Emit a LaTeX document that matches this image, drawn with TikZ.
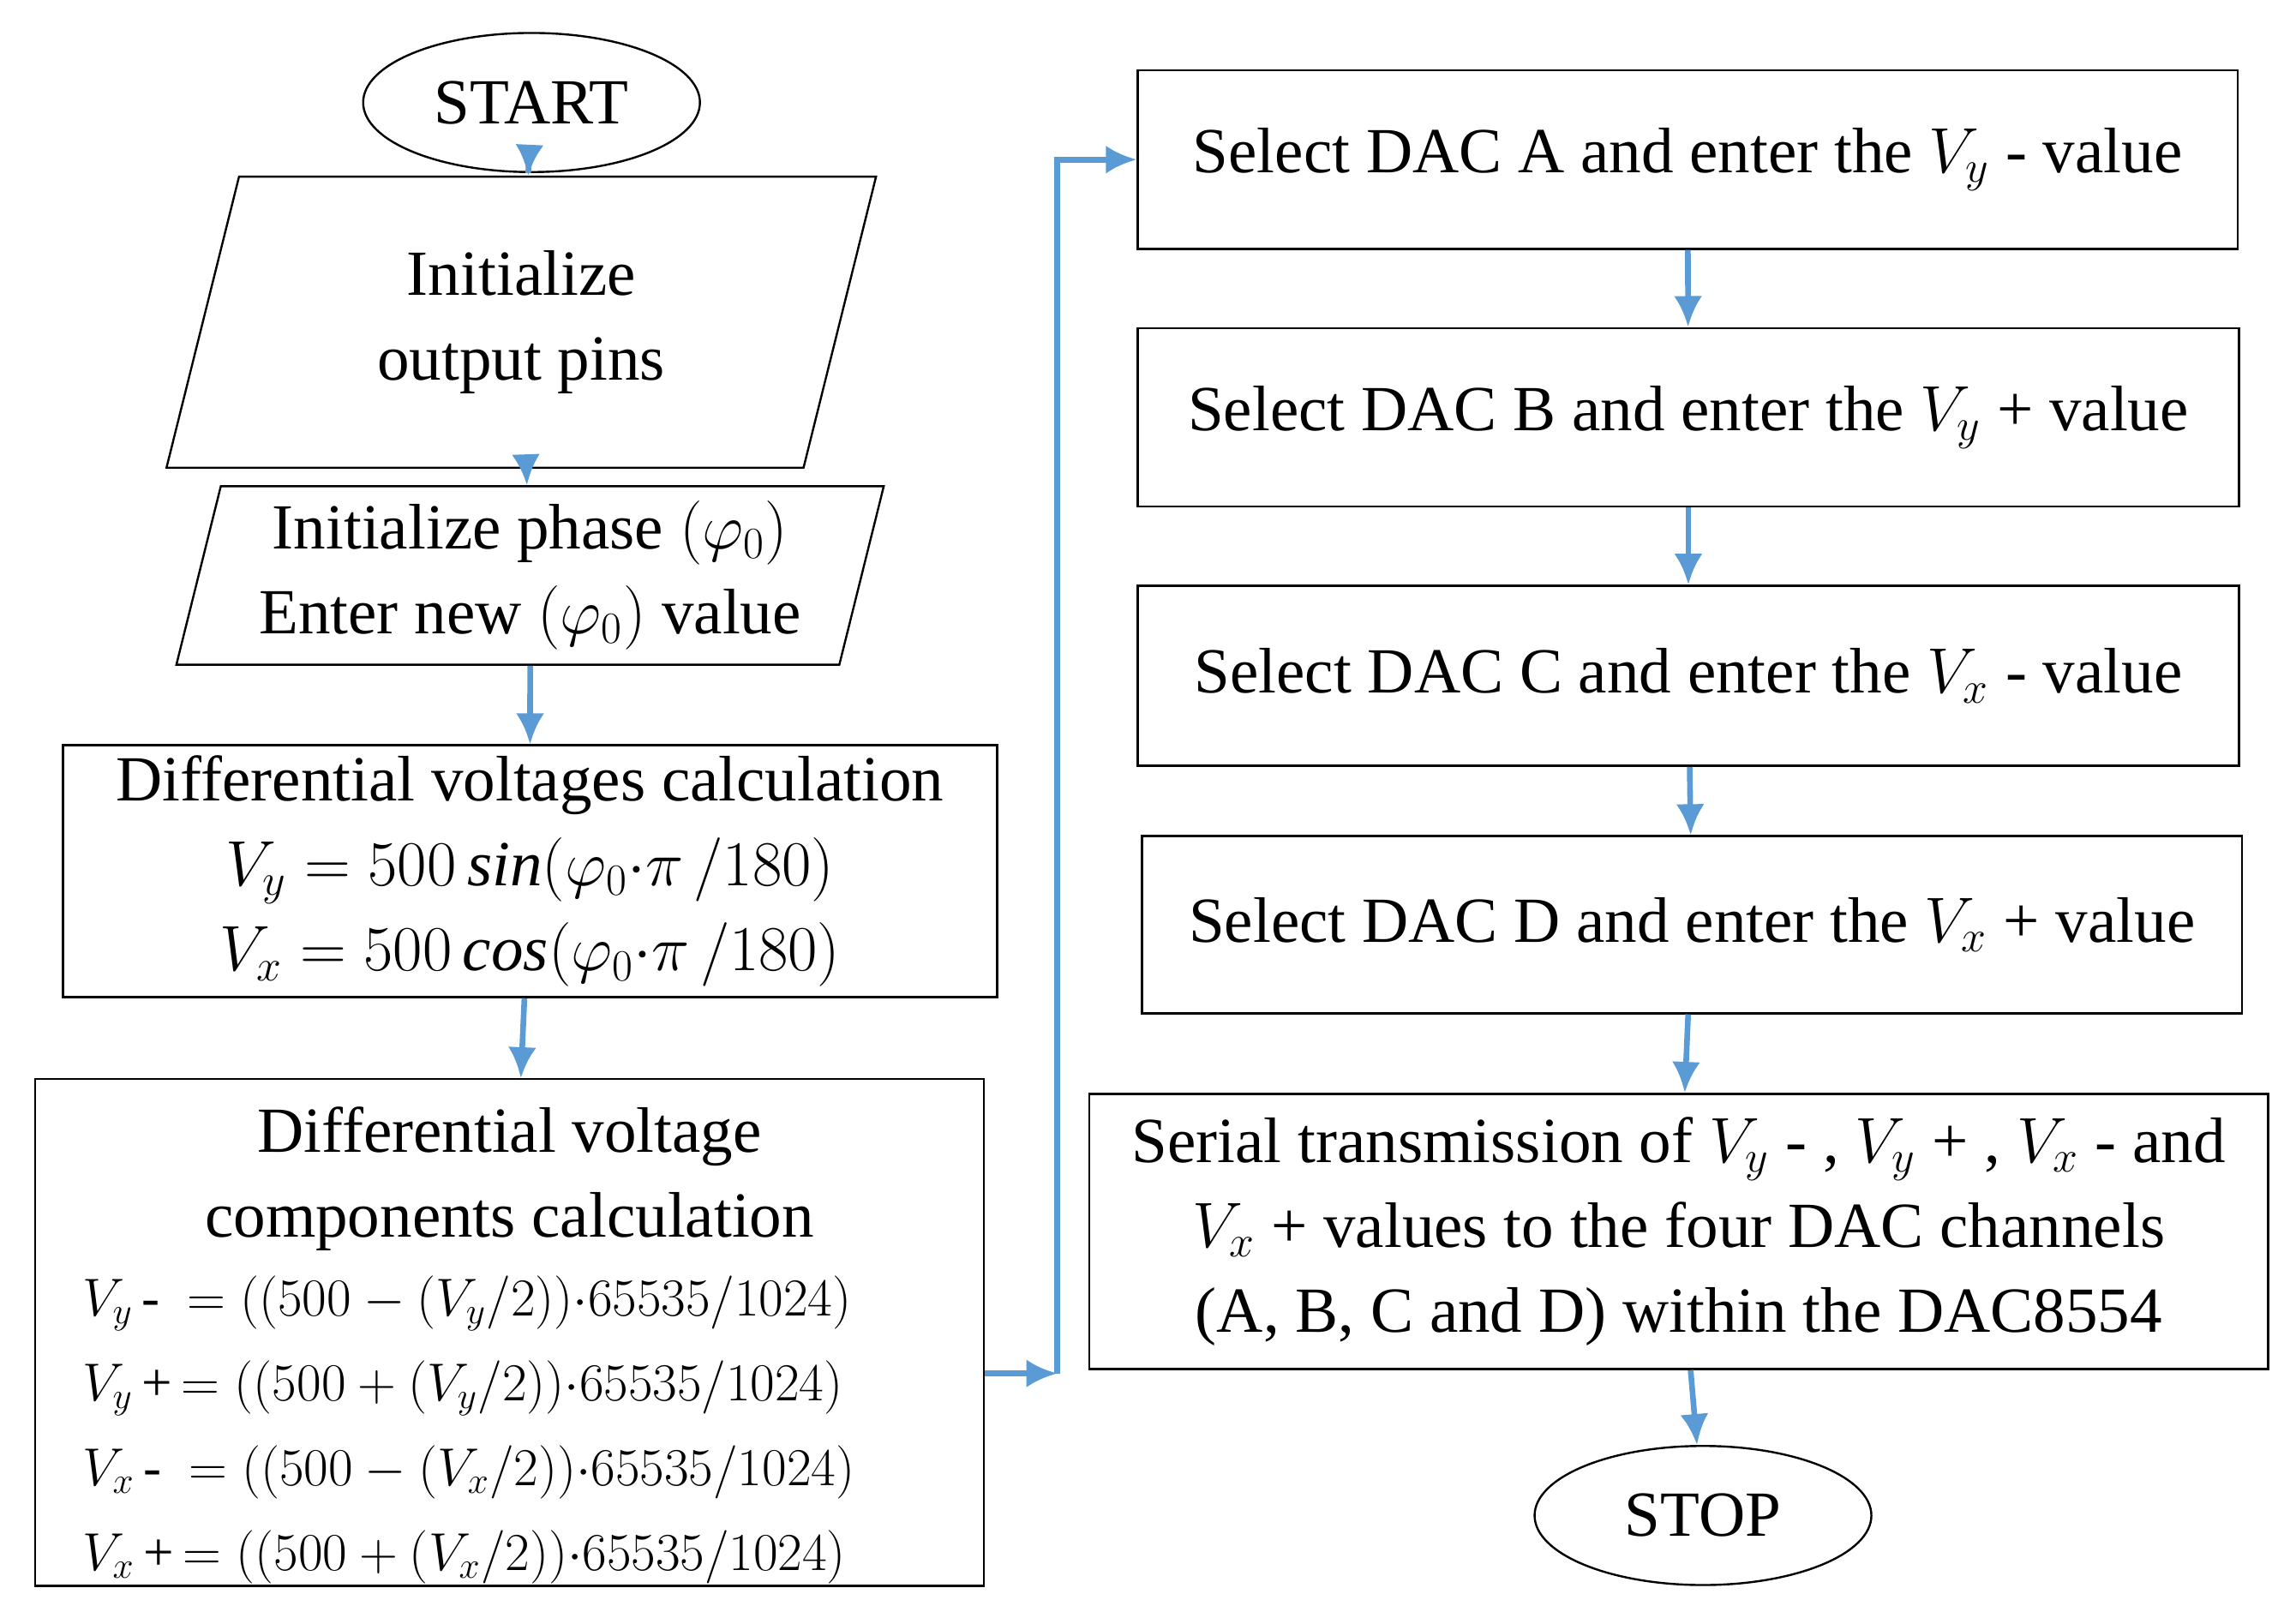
\documentclass[tikz,border=0pt]{standalone}
\usepackage{fontspec}
\setmainfont{Liberation Serif}
\usetikzlibrary{shapes.geometric}
\definecolor{flowblue}{RGB}{91,155,213}
\tikzset{
  box/.style={draw,thick,rectangle,inner sep=2pt,align=center,font=\fontsize{25}{33}\selectfont},
  io/.style={draw,thick,trapezium,trapezium left angle=76,trapezium right angle=104,align=center,inner sep=2pt,font=\fontsize{25}{33}\selectfont},
  term/.style={draw,thick,ellipse,minimum width=4.6cm,minimum height=1.9cm,font=\fontsize{25}{30}\selectfont},
  flow/.style={draw=flowblue,line width=2.2pt,-{Latex[length=12pt,width=11pt]}}
}
\usetikzlibrary{arrows.meta}
\begin{document}
\begin{tikzpicture}
\useasboundingbox (0,0) rectangle (31.36,-22.1);
\node[term] (start) at (7.26,-1.4) {START};
\node[io,minimum width=9.7cm,minimum height=2.36cm] (pins) at (7.12,-4.4) {Initialize\\output pins};
\node[io,minimum width=9.7cm,minimum height=2.26cm] (phase) at (7.24,-7.86) {Initialize phase $(\varphi_0)$\\Enter new $(\varphi_0)$ value};
\node[box,minimum width=12.76cm,minimum height=3.44cm] (diff) at (7.24,-11.9)
  {Differential voltages calculation\\$V_y = 500\,\mathit{sin}(\varphi_0{\cdot}\pi\,/180)$\\$V_x = 500\,\mathit{cos}(\varphi_0{\cdot}\pi\,/180)$};
\node[box,minimum width=12.96cm,minimum height=6.92cm] (comp) at (6.96,-18.2) {};
\node[align=center,font=\fontsize{25}{33}\selectfont] (comptitle) at (6.96,-16.1) {Differential voltage\\components calculation};
\node[align=left,font=\fontsize{21}{33}\selectfont,anchor=north west] (compeq) at (1.0,-17.3)
  {$V_y$\,-\ \ $=((500 - (V_y/2)){\cdot}65535/1024)$\\
   $V_y$\,+\,$=((500 + (V_y/2)){\cdot}65535/1024)$\\
   $V_x$\,-\ \ $=((500 - (V_x/2)){\cdot}65535/1024)$\\
   $V_x$\,+\,$=((500 + (V_x/2)){\cdot}65535/1024)$};
\node[box,minimum width=15.02cm,minimum height=2.44cm] (daca) at (23.05,-2.18) {Select DAC A and enter the $V_y$ - value};
\node[box,minimum width=15.04cm,minimum height=2.44cm] (dacb) at (23.06,-5.7) {Select DAC B and enter the $V_y$ + value};
\node[box,minimum width=15.04cm,minimum height=2.46cm] (dacc) at (23.06,-9.23) {Select DAC C and enter the $V_x$ - value};
\node[box,minimum width=15.02cm,minimum height=2.42cm] (dacd) at (23.11,-12.63) {Select DAC D and enter the $V_x$ + value};
\node[box,minimum width=16.1cm,minimum height=3.76cm] (serial) at (22.93,-16.82)
  {Serial transmission of $V_y$ - , $V_y$ + , $V_x$ - and\\$V_x$ + values to the four DAC channels\\(A, B, C and D) within the DAC8554};
\node[term] (stop) at (23.26,-20.7) {STOP};
\coordinate (bend) at (14.44,-18.76);
\draw[flow] (start) -- (pins);
\draw[flow] (pins) -- (phase);
\draw[flow] (phase) -- (diff);
\draw[flow] (diff) -- (comp);
\draw[flow] (comp.east |- bend) -- (bend);
\draw[flow] (bend) |- (daca.west);
\draw[flow] (daca) -- (dacb);
\draw[flow] (dacb) -- (dacc);
\draw[flow] (dacc) -- (dacd);
\draw[flow] (dacd) -- (serial);
\draw[flow] (serial) -- (stop);
\end{tikzpicture}
\end{document}
